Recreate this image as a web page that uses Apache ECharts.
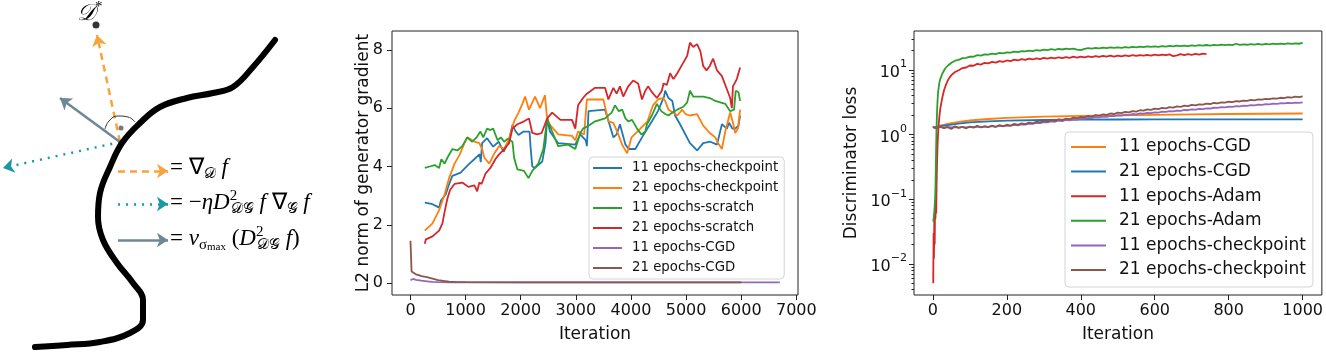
<!DOCTYPE html>
<html>
<head>
<meta charset="utf-8">
<script src="https://cdn.jsdelivr.net/npm/echarts@6/dist/echarts.min.js"></script>
<style>
  html, body { margin: 0; padding: 0; background: #fff; }
  #chart { width: 1326px; height: 353px; }
</style>
</head>
<body>
<div id="chart"></div>
<script>
// ---------- left panel: sketch of the manifold ----------
const curveX = [275, 253, 233, 213, 187, 160, 140, 122, 110, 100, 98, 103, 117, 133, 143, 143, 130, 100, 67, 35];
const curveY = [40, 67, 87, 93, 98, 107, 123, 143, 167, 193, 217, 240, 263, 283, 300, 320, 333, 342, 345, 347];
const vecOrigin = [120, 142];
const vecTipX = [97, 3, 60];          // grad, step, sigma_max direction
const vecTipY = [35, 168, 98];
const starPoint = [96, 25];
const arcX = [105, 109, 118, 128, 135];
const arcY = [129, 121, 116, 117, 122];
const keyX = [118, 168];
const keyY = [171, 204, 240];

// ---------- middle panel: generator gradient norm ----------
const gradTicks = [0, 1000, 2000, 3000, 4000, 5000, 6000, 7000];
const gradYTicks = [0, 2, 4, 6, 8];

const ckpt11Iter = [260, 380, 460, 520, 550, 580, 640, 700, 760, 910, 1060, 1255, 1275, 1300, 1390, 1500, 1600, 1690, 1780, 1850, 1910, 1960, 2050, 2160, 2180, 2210, 2260, 2390, 2450, 2480, 2530, 2680, 2990, 3080, 3180, 3200, 3230, 3530, 3610, 3680, 3740, 3800, 3900, 3960, 4080, 4200, 4380, 4490, 4600, 4620, 4680, 4750, 4800, 4890, 5070, 5200, 5310, 5440, 5560, 5650, 5740, 5780, 5840, 5890, 5950, 5980];
const ckpt11Val = [2.76, 2.72, 2.65, 2.59, 2.82, 2.76, 3.05, 3.39, 3.68, 3.79, 4.08, 4.42, 4.15, 4.8, 4.97, 4.68, 4.85, 4.5, 4.85, 5.43, 5.2, 5.08, 5.2, 5.2, 4.63, 4.0, 3.95, 4.17, 4.8, 5.65, 5.2, 4.8, 4.75, 5.1, 4.9, 4.7, 5.9, 5.95, 5.45, 5.0, 5.1, 5.45, 4.75, 4.6, 4.6, 5.0, 5.55, 5.9, 6.4, 6.6, 6.35, 6.25, 5.75, 5.45, 4.8, 4.55, 4.8, 4.85, 4.75, 5.45, 5.3, 5.5, 5.3, 5.3, 5.4, 5.75];

const ckpt21Iter = [260, 400, 520, 620, 700, 800, 890, 980, 1030, 1160, 1250, 1300, 1340, 1430, 1520, 1610, 1700, 1790, 1880, 1960, 2030, 2080, 2150, 2170, 2260, 2350, 2440, 2470, 2500, 2680, 2930, 2990, 3040, 3150, 3200, 3500, 3590, 3680, 3750, 3840, 3930, 4010, 4170, 4300, 4400, 4490, 4580, 4620, 4680, 4760, 4840, 4930, 4990, 5070, 5200, 5310, 5430, 5530, 5580, 5650, 5710, 5800, 5850, 5890, 5940, 5980];
const ckpt21Val = [1.8, 2.05, 2.5, 3.05, 3.6, 4.1, 4.4, 4.8, 5.0, 4.85, 4.8, 4.6, 4.3, 4.1, 4.45, 4.7, 4.6, 4.95, 5.55, 5.85, 6.15, 6.4, 5.95, 5.9, 6.4, 6.0, 6.45, 5.8, 5.5, 5.1, 5.05, 4.9, 5.2, 5.1, 6.3, 6.3, 5.55, 5.5, 5.2, 4.75, 4.45, 5.0, 5.3, 5.55, 6.1, 6.3, 6.35, 6.25, 5.95, 5.85, 5.75, 5.95, 5.8, 5.75, 5.8, 5.4, 5.15, 5.0, 4.8, 4.6, 5.2, 5.85, 5.5, 5.15, 5.3, 5.95];

const scratch11Iter = [260, 350, 440, 520, 560, 620, 670, 760, 850, 940, 1030, 1120, 1200, 1270, 1320, 1390, 1450, 1500, 1580, 1640, 1700, 1760, 1850, 1880, 1940, 2060, 2140, 2210, 2320, 2410, 2480, 2570, 2680, 2860, 2990, 3080, 3130, 3230, 3350, 3530, 3650, 3710, 3780, 3840, 3900, 3950, 4020, 4110, 4190, 4260, 4290, 4380, 4470, 4550, 4620, 4680, 4750, 4840, 4950, 5020, 5070, 5130, 5310, 5430, 5530, 5620, 5710, 5800, 5870, 5900, 5950, 5980];
const scratch11Val = [3.95, 4.0, 4.05, 3.95, 4.25, 4.1, 4.3, 4.6, 4.55, 4.7, 5.0, 4.85, 5.0, 5.2, 5.0, 5.3, 5.25, 5.3, 4.9, 5.0, 4.85, 4.95, 4.85, 4.3, 3.9, 3.85, 3.6, 3.85, 4.1, 4.6, 5.65, 5.2, 4.7, 4.75, 4.6, 5.15, 5.3, 5.4, 5.55, 5.65, 5.85, 6.1, 5.9, 5.95, 5.65, 5.55, 5.6, 5.3, 5.1, 5.2, 5.45, 5.75, 6.15, 5.9, 5.8, 5.75, 5.85, 5.95, 6.05, 6.2, 6.6, 6.4, 6.4, 6.35, 6.25, 6.2, 6.15, 5.9, 5.95, 6.6, 6.55, 6.25];

const scratch21Iter = [260, 280, 400, 520, 580, 620, 670, 720, 800, 940, 1050, 1160, 1210, 1250, 1290, 1360, 1450, 1540, 1600, 1700, 1790, 1850, 1940, 2060, 2150, 2210, 2300, 2380, 2440, 2480, 2570, 2720, 2930, 2990, 3040, 3130, 3200, 3350, 3530, 3590, 3680, 3740, 3800, 3860, 3950, 4040, 4130, 4200, 4260, 4310, 4380, 4470, 4560, 4590, 4650, 4710, 4770, 4840, 4900, 4960, 5020, 5070, 5130, 5200, 5260, 5310, 5370, 5430, 5490, 5560, 5650, 5740, 5800, 5830, 5850, 5880, 5920, 5980];
const scratch21Val = [1.35, 1.5, 1.6, 1.8, 2.05, 2.45, 2.9, 3.2, 3.4, 3.45, 3.3, 3.35, 3.15, 3.45, 3.4, 3.75, 3.95, 4.25, 4.4, 4.6, 4.8, 5.3, 5.45, 5.55, 5.65, 5.15, 5.1, 5.15, 5.45, 5.65, 5.85, 5.6, 5.6, 5.3, 6.1, 6.35, 6.5, 6.7, 6.7, 6.3, 6.7, 6.5, 6.75, 6.4, 6.75, 6.95, 6.85, 6.3, 6.6, 6.75, 6.55, 6.35, 6.6, 6.85, 6.8, 7.2, 7.0, 7.2, 7.4, 7.6, 7.8, 8.25, 8.1, 8.2, 7.95, 7.45, 7.3, 7.45, 7.7, 7.3, 7.1, 6.65, 6.35, 6.0, 6.75, 6.8, 7.0, 7.4];

const cgd11Iter = [0, 50, 100, 200, 300, 400, 500, 700, 1000, 2000, 3000, 4000, 5000, 6000, 6700];
const cgd11Val = [0.1, 0.14, 0.11, 0.08, 0.06, 0.04, 0.03, 0.02, 0.02, 0.02, 0.02, 0.02, 0.02, 0.02, 0.02];
const cgd21Iter = [0, 20, 50, 100, 150, 200, 300, 400, 500, 600, 700, 800, 1000, 2000, 3000, 4000, 5000, 6000];
const cgd21Val = [1.45, 0.4, 0.35, 0.3, 0.27, 0.24, 0.2, 0.15, 0.1, 0.07, 0.05, 0.04, 0.03, 0.02, 0.02, 0.02, 0.02, 0.02];

// ---------- right panel: discriminator loss ----------
const lossTicks = [0, 200, 400, 600, 800, 1000];
const lossYTicks = [0.01, 0.1, 1, 10];
const lossYMinorTicks = [0.004, 0.005, 0.006, 0.007, 0.008, 0.009,
  0.02, 0.03, 0.04, 0.05, 0.06, 0.07, 0.08, 0.09,
  0.2, 0.3, 0.4, 0.5, 0.6, 0.7, 0.8, 0.9,
  2, 3, 4, 5, 6, 7, 8, 9, 20, 30];

const adamIter = [1, 2, 3, 4, 5, 6, 7, 8, 9, 10, 11, 12, 13, 14, 16, 18, 20, 25, 30, 35, 40, 45, 50,
  60, 70, 80, 90, 100, 110, 120, 130, 140, 150, 160, 170, 180, 190, 200, 210, 220, 230, 240, 250,
  260, 270, 280, 290, 300, 310, 320, 330, 340, 350, 360, 370, 380, 390, 400, 410, 420, 430, 440, 450,
  460, 470, 480, 490, 500, 510, 520, 530, 540, 550, 560, 570, 580, 590, 600, 610, 620, 630, 640, 650,
  660, 670, 680, 690, 700, 710, 720, 730, 740, 750, 760, 770, 780, 790, 800, 810, 820, 830, 840, 850,
  860, 870, 880, 890, 900, 910, 920, 930, 940, 950, 960, 970, 980, 990, 1000];
const adam11Val = [0.005, 0.03, 0.012, 0.06, 0.02, 0.09, 0.05, 0.1, 0.06, 0.15, 0.3, 0.5, 0.75, 1.0, 1.5, 2.0, 2.5, 3.6, 4.8, 5.8, 6.8, 7.6, 8.3,
  9.3, 9.9, 10.7, 10.9, 11.7, 11.6, 12.4, 12.1, 12.9, 12.6, 13.3, 13.0, 13.7, 13.3, 14.0, 13.7, 14.4, 14.0, 14.7, 14.3,
  14.9, 14.5, 15.1, 14.7, 15.3, 14.9, 15.5, 15.1, 15.7, 15.2, 15.8, 15.4, 16.0, 15.5, 16.1, 15.6, 16.2, 15.8, 16.3, 15.9,
  16.5, 16.0, 16.6, 16.1, 16.7, 16.2, 16.8, 16.4, 16.9, 16.5, 17.0, 16.6, 17.1, 16.7, 17.2, 16.8, 17.3, 16.9, 17.4, 16.3,
  16.8, 17.5, 17.0, 17.6, 17.1, 17.7, 17.3, 17.9, 17.6];
const adam21Val = [0.045, 0.05, 0.055, 0.065, 0.08, 0.1, 0.15, 0.3, 0.7, 1.3, 2.0, 2.8, 3.6, 4.4, 5.5, 6.5, 7.2, 8.6, 9.8, 10.8, 11.6, 12.3, 12.9,
  13.9, 14.3, 15.2, 15.4, 16.1, 16.0, 16.9, 16.6, 17.4, 17.2, 17.9, 17.6, 18.4, 18.0, 18.7, 18.5, 19.2, 18.8, 19.6, 19.3,
  19.9, 19.6, 20.3, 19.9, 20.6, 20.2, 20.9, 20.5, 21.1, 20.7, 21.3, 20.9, 21.4, 20.6, 20.3, 21.2, 21.7, 21.3, 21.9, 21.5,
  22.1, 21.7, 22.3, 21.9, 22.4, 22.0, 22.6, 22.2, 22.8, 22.4, 22.9, 22.5, 23.1, 22.7, 23.2, 22.8, 23.4, 23.0, 23.5, 23.1,
  23.7, 23.3, 23.8, 23.4, 24.0, 23.5, 24.1, 23.7, 24.3, 23.8, 24.4, 24.0, 24.6, 24.1, 24.7, 24.2, 25.4, 24.4, 24.9, 24.5,
  25.1, 24.6, 25.2, 24.7, 25.3, 24.9, 25.5, 25.0, 25.6, 25.1, 25.7, 25.2, 25.8, 25.4, 26.2];

const ckptIter = [0, 10, 20, 30, 40, 50, 60, 70, 80, 90, 100, 110, 120, 130, 140, 150, 160, 170, 180, 190,
  200, 210, 220, 230, 240, 250, 260, 270, 280, 290, 300, 310, 320, 330, 340, 350, 360, 370, 380, 390,
  400, 410, 420, 430, 440, 450, 460, 470, 480, 490, 500, 510, 520, 530, 540, 550, 560, 570, 580, 590,
  600, 610, 620, 630, 640, 650, 660, 670, 680, 690, 700, 710, 720, 730, 740, 750, 760, 770, 780, 790,
  800, 810, 820, 830, 840, 850, 860, 870, 880, 890, 900, 910, 920, 930, 940, 950, 960, 970, 980, 990, 1000];
const lossCkpt11Val = [1.30, 1.27, 1.31, 1.28, 1.32, 1.29, 1.31, 1.28, 1.32, 1.29, 1.32, 1.30, 1.33, 1.30, 1.34, 1.31, 1.35, 1.32, 1.36, 1.34,
  1.38, 1.36, 1.41, 1.39, 1.44, 1.42, 1.48, 1.46, 1.52, 1.50, 1.56, 1.54, 1.60, 1.58, 1.64, 1.62, 1.68, 1.66, 1.72, 1.71,
  1.77, 1.75, 1.81, 1.80, 1.86, 1.84, 1.90, 1.88, 1.95, 1.93, 1.99, 1.97, 2.04, 2.02, 2.08, 2.06, 2.12, 2.10, 2.17, 2.15,
  2.21, 2.19, 2.26, 2.24, 2.30, 2.28, 2.35, 2.33, 2.40, 2.38, 2.45, 2.43, 2.50, 2.48, 2.55, 2.53, 2.60, 2.58, 2.65, 2.63,
  2.70, 2.68, 2.75, 2.73, 2.80, 2.78, 2.85, 2.83, 2.90, 2.88, 2.95, 2.93, 3.00, 2.98, 3.05, 3.03, 3.09, 3.07, 3.12, 3.10, 3.15];
const lossCkpt21Val = [1.30, 1.24, 1.33, 1.26, 1.30, 1.22, 1.34, 1.27, 1.31, 1.25, 1.33, 1.28, 1.36, 1.29, 1.34, 1.30, 1.38, 1.32, 1.40, 1.35,
  1.42, 1.38, 1.46, 1.41, 1.49, 1.45, 1.53, 1.49, 1.58, 1.54, 1.62, 1.58, 1.67, 1.63, 1.72, 1.68, 1.77, 1.74, 1.83, 1.79,
  1.88, 1.85, 1.94, 1.90, 2.00, 1.96, 2.06, 2.02, 2.12, 2.08, 2.18, 2.14, 2.25, 2.21, 2.31, 2.27, 2.38, 2.34, 2.45, 2.41,
  2.52, 2.48, 2.59, 2.55, 2.66, 2.62, 2.73, 2.69, 2.80, 2.76, 2.87, 2.83, 2.94, 2.90, 3.01, 2.97, 3.08, 3.04, 3.15, 3.11,
  3.22, 3.18, 3.29, 3.25, 3.36, 3.32, 3.43, 3.39, 3.50, 3.46, 3.57, 3.53, 3.64, 3.60, 3.71, 3.67, 3.78, 3.74, 3.85, 3.80, 3.90];

const cgdLossIter = [0, 10, 25, 50, 75, 100, 150, 200, 300, 400, 500, 600, 700, 800, 900, 1000];
const lossCgd11Val = [1.30, 1.33, 1.40, 1.50, 1.58, 1.65, 1.74, 1.81, 1.89, 1.94, 1.98, 2.02, 2.05, 2.08, 2.10, 2.12];
const lossCgd21Val = [1.30, 1.32, 1.36, 1.43, 1.49, 1.54, 1.60, 1.64, 1.68, 1.70, 1.71, 1.72, 1.72, 1.72, 1.72, 1.72];

// ---------- helpers ----------
const C = {
  blue: '#1f77b4', orange: '#ff7f0e', green: '#2ca02c',
  red: '#d62728', purple: '#9467bd', brown: '#8c564b'
};
const FONT = 'DejaVu Sans';
const MATH = 'Liberation Serif';
const zip = (xs, ys) => xs.map((x, i) => [x, ys[i]]);

function plotLine(name, xs, ys, color, axis) {
  return {
    name, type: 'line', xAxisIndex: axis, yAxisIndex: axis,
    data: zip(xs, ys), symbol: 'none', showSymbol: false,
    lineStyle: { color, width: 1.8 }, itemStyle: { color },
    emphasis: { disabled: true }, z: 3
  };
}

function valueXAxis(grid, min, max, ticks, nameText) {
  return {
    gridIndex: grid, type: 'value', min, max,
    name: nameText, nameLocation: 'middle', nameGap: 31, nameMoveOverlap: false,
    nameTextStyle: { fontFamily: FONT, fontSize: 17, color: '#111' },
    axisLine: { show: false, onZero: false }, splitLine: { show: false },
    axisTick: { customValues: ticks, length: 5, lineStyle: { color: '#222' } },
    axisLabel: { customValues: ticks, margin: 8, fontFamily: FONT, fontSize: 16, color: '#111', formatter: v => String(v) }
  };
}

const chart = echarts.init(document.getElementById('chart'), null, { renderer: 'canvas' });

const legendBase = {
  orient: 'vertical', icon: 'rect', selectedMode: false,
  backgroundColor: 'rgba(255,255,255,0.85)', borderColor: '#d4d4d4', borderWidth: 1, borderRadius: 4,
  formatter: n => n.split('|')[0]
};

const mathRich = {
  op: { fontFamily: MATH, fontSize: 23, color: '#111', lineHeight: 28, verticalAlign: 'middle' },
  it: { fontFamily: MATH, fontStyle: 'italic', fontSize: 23, color: '#111', lineHeight: 28, verticalAlign: 'middle' },
  sub: { fontFamily: MATH, fontSize: 15, color: '#111', lineHeight: 20, verticalAlign: 'bottom' },
  sup: { fontFamily: MATH, fontSize: 15, color: '#111', lineHeight: 20, verticalAlign: 'top', width: 1 },
  ssub: { fontFamily: MATH, fontSize: 11, color: '#111', lineHeight: 14, verticalAlign: 'bottom' }
};

const vecStyles = [
  { color: '#f5a53c', width: 2.5, type: [7, 5], opacity: 1 },
  { color: '#1a98a4', width: 2.5, type: [2, 6], opacity: 1 },
  { color: '#6e8796', width: 2.5, type: 'solid', opacity: 1 }
];

chart.setOption({
  animation: false,
  grid: [
    { left: 0, top: 0, width: 330, height: 353, show: false },
    { left: 392, top: 31, width: 406, height: 264, show: true, borderColor: '#222', borderWidth: 1 },
    { left: 914, top: 31, width: 408, height: 264, show: true, borderColor: '#222', borderWidth: 1 }
  ],
  xAxis: [
    { gridIndex: 0, type: 'value', min: 0, max: 330, show: false },
    valueXAxis(1, -335, 7030, gradTicks, 'Iteration'),
    valueXAxis(2, -51, 1052, lossTicks, 'Iteration')
  ],
  yAxis: [
    { gridIndex: 0, type: 'value', min: 0, max: 353, inverse: true, show: false },
    {
      gridIndex: 1, type: 'value', min: -0.41, max: 8.65,
      name: 'L2 norm of generator gradient', nameLocation: 'middle', nameGap: 20, nameMoveOverlap: false,
      nameTextStyle: { fontFamily: FONT, fontSize: 17, color: '#111' },
      axisLine: { show: false, onZero: false }, splitLine: { show: false },
      axisTick: { customValues: gradYTicks, length: 5, lineStyle: { color: '#222' } },
      axisLabel: { customValues: gradYTicks, margin: 9, fontFamily: FONT, fontSize: 16, color: '#111' }
    },
    {
      gridIndex: 2, type: 'log', logBase: 10, min: 0.0033, max: 40, position: 'left',
      name: 'Discriminator loss', nameLocation: 'middle', nameGap: 54, nameMoveOverlap: false,
      nameTextStyle: { fontFamily: FONT, fontSize: 17, color: '#111' },
      axisLine: { show: false, onZero: false }, splitLine: { show: false },
      axisTick: { customValues: lossYTicks, length: 5, lineStyle: { color: '#222' } },
      axisLabel: {
        customValues: lossYTicks, margin: 7,
        formatter: v => {
          const e = Math.round(Math.log10(v));
          return '{b|10}{s|' + (e < 0 ? '\u2212' + (-e) : e) + '}';
        },
        rich: {
          b: { fontFamily: FONT, fontSize: 16, color: '#111', lineHeight: 22, verticalAlign: 'bottom' },
          s: { fontFamily: FONT, fontSize: 11, color: '#111', lineHeight: 22, verticalAlign: 'top' }
        }
      }
    },
    {
      // minor ticks of the log axis
      gridIndex: 2, type: 'log', logBase: 10, min: 0.0033, max: 40, position: 'left',
      axisLine: { show: false, onZero: false }, splitLine: { show: false },
      axisTick: { customValues: lossYMinorTicks, length: 2.5, lineStyle: { color: '#222' } },
      axisLabel: { show: false }
    }
  ],
  legend: [
    Object.assign({}, legendBase, {
      left: 589, top: 157, padding: [3, 6, 3, 4], itemGap: 4, itemWidth: 29, itemHeight: 2,
      textStyle: { fontFamily: FONT, fontSize: 13.3, lineHeight: 16, color: '#111', padding: [0, 0, 0, 5] },
      data: ['11 epochs-checkpoint|g', '21 epochs-checkpoint|g', '11 epochs-scratch|g',
             '21 epochs-scratch|g', '11 epochs-CGD|g', '21 epochs-CGD|g']
    }),
    Object.assign({}, legendBase, {
      left: 1065, top: 132, padding: [5, 7, 7, 6], itemGap: 4.6, itemWidth: 35, itemHeight: 2,
      textStyle: { fontFamily: FONT, fontSize: 17, lineHeight: 20, color: '#111', padding: [0, 0, 0, 8] },
      data: ['11 epochs-CGD|d', '21 epochs-CGD|d', '11 epochs-Adam|d',
             '21 epochs-Adam|d', '11 epochs-checkpoint|d', '21 epochs-checkpoint|d']
    })
  ],
  graphic: [
    {
      type: 'text', left: 77, top: 0,
      style: { text: '{it|\uD835\uDC9F}{sup|*}', rich: mathRich }
    },
    {
      type: 'text', left: 170, top: keyY[0] - 15,
      style: { text: '{op|= \u2207}{sub|\uD835\uDC9F}{it| f}', rich: mathRich }
    },
    {
      type: 'text', left: 170, top: keyY[1] - 15,
      style: { text: '{op|= \u2212}{it|\u03B7D}{sup|2}{sub|\uD835\uDC9F\uD835\uDCA2}{it| f}{op| \u2207}{sub|\uD835\uDCA2}{it| f}', rich: mathRich }
    },
    {
      type: 'text', left: 170, top: keyY[2] - 15,
      style: { text: '{op|= }{it|v}{sub|\u03C3}{ssub|max}{op| (}{it|D}{sup|2}{sub|\uD835\uDC9F\uD835\uDCA2}{it| f}{op|)}', rich: mathRich }
    }
  ],
  series: [
    // left sketch
    {
      type: 'line', xAxisIndex: 0, yAxisIndex: 0, data: zip(curveX, curveY),
      smooth: 0.4, symbol: 'none', lineStyle: { color: '#000', width: 6, cap: 'round' }, silent: true
    },
    {
      type: 'line', xAxisIndex: 0, yAxisIndex: 0, data: zip(arcX, arcY),
      smooth: 0.5, symbol: 'none', lineStyle: { color: '#333', width: 1 }, silent: true
    },
    {
      type: 'lines', coordinateSystem: 'cartesian2d', xAxisIndex: 0, yAxisIndex: 0,
      symbol: ['none', 'arrow'], symbolSize: 11, silent: true,
      lineStyle: { opacity: 1 },
      data: [
        { coords: [vecOrigin, [vecTipX[0], vecTipY[0]]], lineStyle: vecStyles[0] },
        { coords: [vecOrigin, [vecTipX[1], vecTipY[1]]], lineStyle: vecStyles[1] },
        { coords: [vecOrigin, [vecTipX[2], vecTipY[2]]], lineStyle: vecStyles[2] },
        { coords: [[keyX[0], keyY[0]], [keyX[1], keyY[0]]], lineStyle: vecStyles[0] },
        { coords: [[keyX[0], keyY[1]], [keyX[1], keyY[1]]], lineStyle: vecStyles[1] },
        { coords: [[keyX[0], keyY[2]], [keyX[1], keyY[2]]], lineStyle: vecStyles[2] }
      ]
    },
    {
      type: 'scatter', xAxisIndex: 0, yAxisIndex: 0, silent: true,
      data: [{ value: starPoint, symbolSize: 7, itemStyle: { color: '#000' } },
             { value: [121, 128], symbolSize: 5, itemStyle: { color: '#555' } }]
    },

    // middle chart
    plotLine('11 epochs-checkpoint|g', ckpt11Iter, ckpt11Val, C.blue, 1),
    plotLine('21 epochs-checkpoint|g', ckpt21Iter, ckpt21Val, C.orange, 1),
    plotLine('11 epochs-scratch|g', scratch11Iter, scratch11Val, C.green, 1),
    plotLine('21 epochs-scratch|g', scratch21Iter, scratch21Val, C.red, 1),
    plotLine('11 epochs-CGD|g', cgd11Iter, cgd11Val, C.purple, 1),
    plotLine('21 epochs-CGD|g', cgd21Iter, cgd21Val, C.brown, 1),

    // right chart
    plotLine('11 epochs-CGD|d', cgdLossIter, lossCgd11Val, C.orange, 2),
    plotLine('21 epochs-CGD|d', cgdLossIter, lossCgd21Val, C.blue, 2),
    plotLine('11 epochs-Adam|d', adamIter.slice(0, adam11Val.length), adam11Val, C.red, 2),
    plotLine('21 epochs-Adam|d', adamIter, adam21Val, C.green, 2),
    plotLine('11 epochs-checkpoint|d', ckptIter, lossCkpt11Val, C.purple, 2),
    plotLine('21 epochs-checkpoint|d', ckptIter, lossCkpt21Val, C.brown, 2)
  ]
});
</script>
</body>
</html>
